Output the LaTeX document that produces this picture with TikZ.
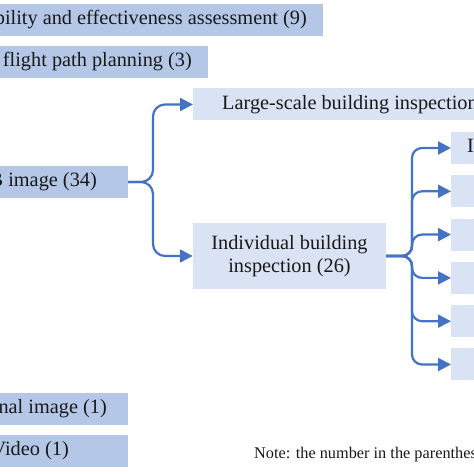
\documentclass[tikz,border=0pt]{standalone}
\usepackage{fontspec}
\setmainfont{Liberation Serif}
\usetikzlibrary{arrows.meta}

\definecolor{boxdark}{HTML}{B4C7E7}
\definecolor{boxlight}{HTML}{DAE3F3}
\definecolor{linkblue}{HTML}{4472C4}

\tikzset{
	every node/.style={font=\fontsize{20.3}{23}\selectfont, text=black!90},
	catbox/.style={fill=boxdark, inner ysep=0pt, minimum height=32pt, text height=14pt, text depth=4pt},
	subbox/.style={fill=boxlight, inner ysep=0pt, minimum height=32pt, text height=14pt, text depth=4pt},
	link/.style={draw=linkblue, line width=2.2pt, rounded corners=12pt, -{Triangle[length=13pt,width=13pt]}}
}

\begin{document}
\begin{tikzpicture}[x=1pt,y=1pt]
	\clip (0,0) rectangle (474,474);
	
	% left column
	\node[catbox, anchor=east, inner xsep=16pt] (feas) at (323,454) {bility and effectiveness assessment (9)};
	\node[catbox, anchor=east, inner xsep=16pt] (path) at (208,412) {flight path planning (3)};
	\node[catbox, anchor=east, inner xsep=31pt] (img) at (128,292) {B image (34)};
	\node[catbox, anchor=east, inner xsep=21pt] (therm) at (128,65) {nal image (1)};
	\node[catbox, anchor=east, inner xsep=59pt] (video) at (128,23) {Video (1)};
	
	% middle column
	\node[subbox, anchor=west, inner xsep=29pt] (large) at (193,369.5) {Large-scale building inspection};
	\node[fill=boxlight, minimum width=193pt, minimum height=66pt, align=center] (indiv) at (289.5,218) {Individual building\\inspection (26)};
	
	% right column
	\node[subbox, anchor=west, inner xsep=16pt] (r1) at (451,326) {I};
	\foreach \i in {2,...,6}
		\node[subbox, anchor=west, minimum width=40pt] (r\i) at (451,{326-(\i-1)*43.3}) {};
	
	\coordinate (lj) at (153,292);
	\coordinate (rj) at (412,218);
	
	\draw[link] (img.east) -- (lj) |- (large.west);
	\draw[link] (img.east) -- (lj) |- (indiv.west);
	\foreach \i in {1,...,6}
		\draw[link, rounded corners=10pt] (indiv.east) -- (rj) |- (r\i.west);
	
	\node[font=\fontsize{16.3}{19}\selectfont, anchor=base west, inner sep=0pt] (note) at (254,16) {Note: the number in the parentheses};
\end{tikzpicture}
\end{document}
